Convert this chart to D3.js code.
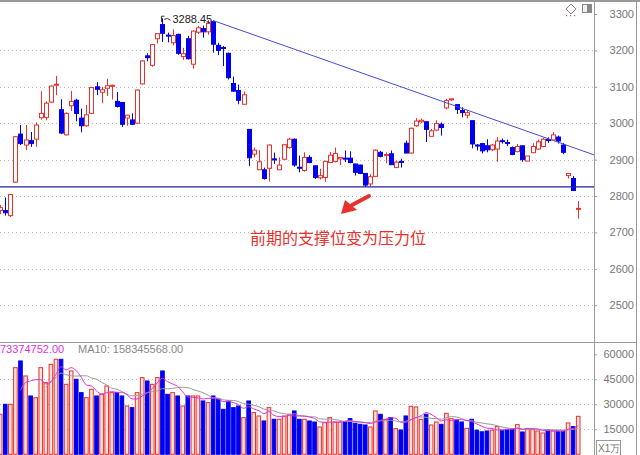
<!DOCTYPE html>
<html><head><meta charset="utf-8">
<script src="https://cdn.jsdelivr.net/npm/d3@7"></script>
<style>body{margin:0;background:#fff}svg{display:block;font-family:Arial,"Liberation Sans",sans-serif}</style>
</head><body><svg id="c" width="640" height="455"></svg>
<script>
const open  = [2760,2760,2746,2838,2970,2940,2952,2956,3015,3016,3058,3105,3037,2968,3048,3063,3014,2993,3027,3100,3085,3096,3102,3060,3057,3014,3009,3000,3108,3185,3159,3232,3271,3242,3221,3244,3183,3232,3162,3250,3260,3251,3279,3214,3208,3192,3109,3090,3052,2983,2915,2872,2872,2876,2902,2872,2901,2933,2956,2879,2870,2906,2883,2850,2851,2892,2895,2902,2904,2904,2888,2885,2862,2833,2854,2920,2911,2916,2878,2895,2945,2918,2993,3004,3004,2964,2981,2997,3042,3064,3051,3035,3022,3007,2940,2944,2938,2927,2929,2952,2947,2933,2922,2938,2896,2919,2929,2936,2955,2954,2962,2940,2856,2848,2764];
const close = [2768,2754,2804,2963,2944,2954,2944,2995,3027,3055,3102,3107,2973,3027,3060,3027,2993,3023,3098,3093,3092,3103,3104,3046,2997,3022,2997,3091,3171,3180,3216,3246,3247,3241,3241,3192,3191,3177,3253,3262,3251,3274,3217,3200,3206,3125,3088,3063,3078,2905,2926,2894,2848,2940,2901,2885,2941,2956,2885,2878,2906,2892,2851,2856,2895,2912,2917,2906,2902,2892,2865,2862,2830,2853,2926,2909,2914,2886,2893,2894,2918,2986,3006,3008,2983,2979,2999,2988,3062,3067,3038,3029,3029,2943,2938,2924,2927,2940,2951,2950,2946,2914,2936,2900,2910,2936,2949,2956,2954,2968,2951,2920,2862,2815,2766];
const high  = [2775,2796,2806,2965,2995,2995,2976,3002,3088,3060,3104,3130,3066,3030,3089,3067,3040,3050,3100,3113,3100,3122,3106,3086,3058,3023,3027,3093,3173,3192,3218,3246,3288.45,3249,3258,3246,3207,3240,3255,3267,3268,3283,3282,3221,3212,3194,3128,3106,3087,2984,2933,2926,2878,2942,2919,2906,2941,2960,2958,2911,2920,2912,2883,2875,2897,2921,2933,2906,2925,2923,2888,2886,2862,2860,2928,2924,2920,2925,2897,2902,2952,2988,3014,3013,3004,2984,3008,3002,3067,3067,3053,3044,3035,3007,2943,2946,2956,2943,2962,2958,2955,2936,2943,2938,2910,2945,2955,2960,2961,2976,2966,2946,2863,2855,2786];
const low   = [2750,2746,2742,2836,2940,2926,2935,2935,3010,3008,3055,3077,2970,2966,3034,3005,2975,2990,3025,3077,3055,3075,3065,3043,2990,2993,2995,2998,3106,3170,3155,3219,3223,3222,3214,3188,3174,3175,3150,3245,3235,3243,3194,3187,3157,3120,3086,3052,3052,2882,2906,2872,2845,2840,2888,2872,2899,2930,2880,2865,2867,2890,2847,2845,2839,2890,2892,2885,2893,2890,2856,2860,2825,2826,2852,2906,2890,2886,2878,2878,2918,2916,2990,3000,2948,2964,2978,2966,3038,3061,3025,3016,3013,2931,2925,2917,2920,2923,2894,2944,2937,2912,2920,2894,2896,2919,2927,2934,2946,2954,2944,2915,2848,2815,2738];
const volume = [24,30,30,52,56,47,35,34,52,43,54,57,57,42,50,45,37,34,39,35,36,41,37,37,35,29,28,37,46,44,42,46,50,36,37,35,29,35,35,35,32,31,35,33,27,32,28,29,22,32,25,23,20,28,21,21,23,24,26,21,21,20,19.4,16.4,19,22,19.4,19.4,19.4,21.4,18.6,18,17.6,16.4,26,24,21,22,15.4,14.6,23,28.8,28.4,21,24,17.6,19.4,18,24.6,21.4,20.6,19.4,15.6,21,14.5,13.5,14,14.5,16.6,14.4,15,15,17.8,13.4,15.5,15,14,12.8,14.5,14,14,14,18.8,16.6,22.8].map(v=>v*1000);
const priceTicks = [2500,2600,2700,2800,2900,3000,3100,3200,3300];
const volTicks = [15000,30000,45000,60000];
const supportLevel = 2825;
const trendFrom = {i:42, v:3282}, trendTo = {i:117.5, v:2913};
const peakLabel = "3288.45";
const note = "前期的支撑位变为压力位";

const svg = d3.select("#c");
const n = open.length;
const x = d3.scaleLinear().domain([0, n-1]).range([0.2, 578.2]);
const y = d3.scaleLinear().domain([2500,3300]).range([305.2,14]);
const yv = d3.scaleLinear().domain([0,60000]).range([454.3,354.3]);
const RIGHT = 594;
const RED="#e8302c", BLUE="#0000f0";

svg.append("line").attr("x1",0).attr("x2",640).attr("y1",1).attr("y2",1).attr("stroke","#999").attr("stroke-width",2);
svg.selectAll(".pg").data(priceTicks.filter(t=>t<3300)).join("line")
  .attr("x1",0).attr("x2",RIGHT).attr("y1",d=>Math.round(y(d))+.5).attr("y2",d=>Math.round(y(d))+.5)
  .attr("stroke","#b8b8b8").attr("stroke-dasharray","1,3");
svg.selectAll(".vg").data(volTicks.filter(t=>t<60000)).join("line")
  .attr("x1",0).attr("x2",RIGHT).attr("y1",d=>Math.round(yv(d))+.5).attr("y2",d=>Math.round(yv(d))+.5)
  .attr("stroke","#b8b8b8").attr("stroke-dasharray","1,3");
svg.append("line").attr("x1",RIGHT+.5).attr("x2",RIGHT+.5).attr("y1",0).attr("y2",455).attr("stroke","#999");
svg.append("line").attr("x1",636.5).attr("x2",636.5).attr("y1",0).attr("y2",455).attr("stroke","#999");
svg.append("line").attr("x1",0).attr("x2",637).attr("y1",342.5).attr("y2",342.5).attr("stroke","#999");

const ax = d3.axisRight(y).tickValues(priceTicks).tickSize(3).tickFormat(d3.format("d"));
const ga = svg.append("g").attr("transform",`translate(${RIGHT},0)`).call(ax);
const av = d3.axisRight(yv).tickValues(volTicks).tickSize(3).tickFormat(d3.format("d"));
const gv = svg.append("g").attr("transform",`translate(${RIGHT},0)`).call(av);
[ga,gv].forEach(g=>{g.select(".domain").remove();g.selectAll("line").attr("stroke","#999");
  g.selectAll("text").attr("x",40).attr("text-anchor","end").attr("fill","#777").attr("font-size",11);});
svg.append("rect").attr("x",596.5).attr("y",440.5).attr("width",24).attr("height",15).attr("fill","none").attr("stroke","#999");
svg.append("text").attr("x",598).attr("y",452).attr("font-size",10).attr("fill","#777").text("X1万");

const idx = d3.range(n);
svg.selectAll(".vb").data(idx).join("rect")
  .attr("x",i=>x(i)-1.8).attr("width",3.6).attr("y",i=>yv(volume[i])).attr("height",i=>yv(0)-yv(volume[i]))
  .attr("fill",i=>close[i]>=open[i]?"#fde2de":BLUE).attr("stroke",i=>close[i]>=open[i]?RED:BLUE).attr("stroke-width",1);
function ma(k){return idx.map(i=>i<k-1?null:d3.mean(volume.slice(i-k+1,i+1)));}
const ma5 = ma(5), ma10 = ma(10);
const vl = d3.line().defined(d=>d[1]!=null).x(d=>x(d[0])).y(d=>yv(d[1])).curve(d3.curveMonotoneX);
svg.append("path").attr("d",vl(ma10.map((v,i)=>[i,v]))).attr("fill","none").attr("stroke","#999").attr("stroke-width",1);
svg.append("path").attr("d",vl(ma5.map((v,i)=>[i,v]))).attr("fill","none").attr("stroke","#e030e0").attr("stroke-width",1);
svg.append("text").attr("x",0).attr("y",353).attr("font-size",11).attr("fill","#e030e0").text("73374752.00");
svg.append("text").attr("x",78).attr("y",353).attr("font-size",11).attr("fill","#888").text("MA10: 158345568.00");

const g = svg.append("g");
g.selectAll(".w").data(idx).join("line")
  .attr("x1",i=>Math.round(x(i))+.5).attr("x2",i=>Math.round(x(i))+.5)
  .attr("y1",i=>y(high[i])).attr("y2",i=>y(low[i]))
  .attr("stroke",i=>close[i]>=open[i]?RED:BLUE);
g.selectAll(".b").data(idx).join("rect")
  .attr("x",i=>Math.round(x(i))-1.5).attr("width",4)
  .attr("y",i=>y(Math.max(open[i],close[i]))).attr("height",i=>Math.max(1,Math.abs(y(open[i])-y(close[i]))))
  .attr("fill",i=>close[i]>=open[i]?"#fff":BLUE).attr("stroke",i=>close[i]>=open[i]?RED:BLUE);

svg.append("line").attr("x1",0).attr("x2",RIGHT).attr("y1",y(supportLevel)).attr("y2",y(supportLevel)).attr("stroke","#22229a").attr("stroke-width",1.3);
svg.append("line").attr("x1",x(trendFrom.i)).attr("y1",y(trendFrom.v)).attr("x2",RIGHT).attr("y2",y(trendTo.v))
  .attr("stroke","#4a4ad8").attr("stroke-width",1);

const pi = high.indexOf(3288.45);
svg.append("path").attr("d",`M${x(pi)-1},${y(3288.45)+4}V${y(3288.45)-2}h3 M${x(pi)+2},${y(3288.45)+1}q3,-2 6,1`).attr("fill","none").attr("stroke","#333");
svg.append("text").attr("x",x(pi)+10).attr("y",y(3288.45)+5).attr("font-size",11).attr("fill","#222").text(peakLabel);

// arrow + note
svg.append("path").attr("d","M369,196 L352,205").attr("stroke","#e8302c").attr("stroke-width",4).attr("stroke-linecap","round");
svg.append("path").attr("d","M341,214 L345,200 L357,210 Z").attr("fill","#e8302c");
svg.append("text").attr("x",250).attr("y",244).attr("font-size",16).attr("fill","#e8302c")
  .attr("font-family","'Noto Sans CJK SC',sans-serif").text(note);

svg.append("path").attr("d","M571,4 l5,5 l-5,5 l-5,-5 z").attr("fill","none").attr("stroke","#888");
svg.append("rect").attr("x",582.5).attr("y",4.5).attr("width",9).attr("height",8).attr("fill","#eee").attr("stroke","#888");
svg.append("rect").attr("x",587).attr("y",5).attr("width",4).attr("height",7).attr("fill","#888");
[566,570,574].forEach(px=>svg.append("rect").attr("x",px).attr("y",15).attr("width",1.2).attr("height",1.2).attr("fill","#d050d0"));
</script></body></html>
